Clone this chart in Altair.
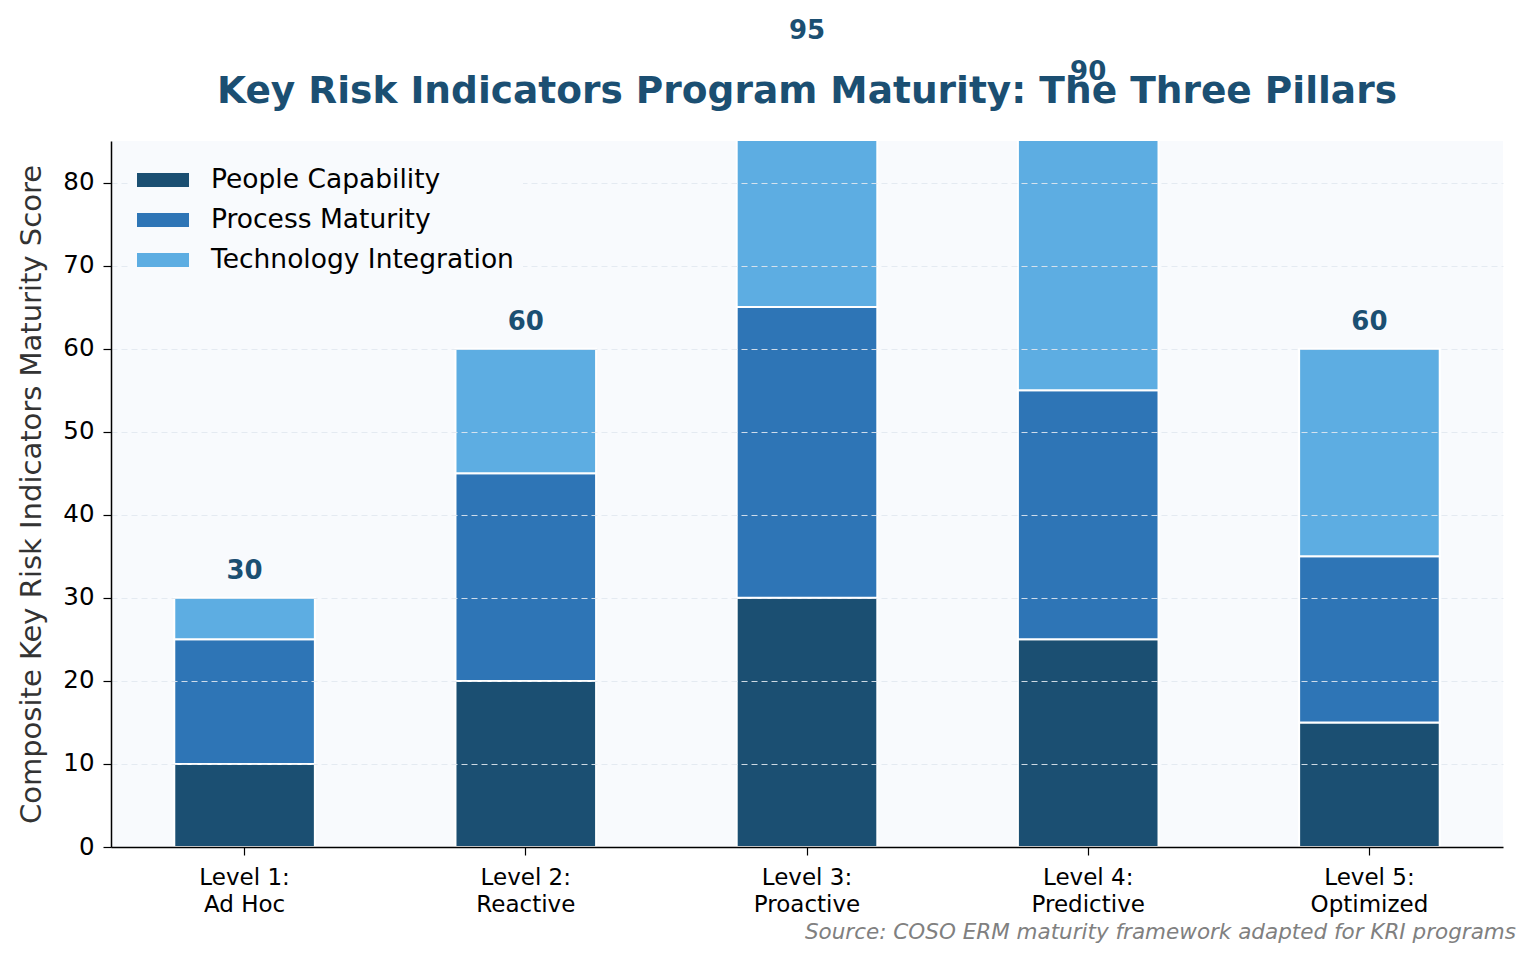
import altair as alt
import pandas as pd

levels = ["Level 1:\nAd Hoc", "Level 2:\nReactive", "Level 3:\nProactive",
          "Level 4:\nPredictive", "Level 5:\nOptimized"]
pillars = ["People Capability", "Process Maturity", "Technology Integration"]
people = [10, 20, 30, 25, 15]
process = [15, 25, 35, 30, 20]
technology = [5, 15, 30, 35, 25]
colors = ["#1b4f72", "#2e75b6", "#5dade2"]
title_text = "Key Risk Indicators Program Maturity: The Three Pillars"
source_text = "Source: COSO ERM maturity framework adapted for KRI programs"
y_title = "Composite Key Risk Indicators Maturity Score"

rows = []
for i, lv in enumerate(levels):
    for j, vals in enumerate([people, process, technology]):
        rows.append({"level": lv, "pillar": pillars[j], "idx": j, "value": vals[i]})
df = pd.DataFrame(rows)
totals = pd.DataFrame({
    "level": levels,
    "total": [a + b + c for a, b, c in zip(people, process, technology)],
})

W, H = 1392, 706
BG = "#f8fafd"

xscale = alt.Scale(domain=levels, paddingInner=0.5, paddingOuter=0.225)
yscale = alt.Scale(domain=[0, 85], nice=False, zero=True)

bars = alt.Chart(df).mark_bar(clip=True, stroke="white", strokeWidth=2).encode(
    x=alt.X("level:N", scale=xscale, sort=levels,
            axis=alt.Axis(title=None, labelAngle=0, labelExpr="split(datum.label, '\\n')",
                          labelFontSize=23, labelLineHeight=27, labelColor="#000000",
                          labelPadding=11, tickSize=8, tickColor="#000000", tickWidth=1.2,
                          domainColor="#000000", domainWidth=1.5, grid=False, zindex=2)),
    y=alt.Y("value:Q", stack="zero", scale=yscale,
            axis=alt.Axis(title=y_title, values=list(range(0, 81, 10)),
                          labelFontSize=24.5, labelColor="#000000", labelPadding=9,
                          tickSize=8, tickColor="#000000", tickWidth=1.2,
                          domainColor="#000000", domainWidth=1.5, grid=True,
                          gridDash=[6, 4], gridColor="#e1e8ef", gridOpacity=0.9,
                          gridWidth=1.2, titleFontSize=29, titleFontWeight="normal",
                          titleColor="#333333", titlePadding=16, zindex=1)),
    color=alt.Color("pillar:N", scale=alt.Scale(domain=pillars, range=colors),
                    legend=alt.Legend(title=None, orient="none", legendX=18, legendY=5,
                                      labelFontSize=26.5, labelColor="#000000", labelLimit=0,
                                      symbolType="M-1,-0.27L1,-0.27L1,0.27L-1,0.27Z",
                                      symbolSize=2704, symbolStrokeWidth=0,
                                      symbolOpacity=1, labelOffset=22, rowPadding=0,
                                      padding=8, fillColor=BG, strokeColor=BG,
                                      zindex=3)),
    order=alt.Order("idx:Q", sort="ascending"),
)

labels = alt.Chart(totals).mark_text(
    fontSize=26, fontWeight="bold", color="#1b4f72", baseline="middle", dy=-27
).encode(
    x=alt.X("level:N", scale=xscale, sort=levels),
    y=alt.Y("total:Q", scale=yscale),
    text=alt.Text("total:Q"),
)

title = alt.Chart(pd.DataFrame({"t": [title_text]})).mark_text(
    fontSize=37.5, fontWeight="bold", color="#1b4f72", align="center", baseline="alphabetic"
).encode(x=alt.value(W / 2), y=alt.value(-38), text="t:N")

source = alt.Chart(pd.DataFrame({"t": [source_text]})).mark_text(
    fontSize=21.5, fontStyle="italic", color="#808080", align="right", baseline="middle"
).encode(x=alt.value(1405), y=alt.value(792), text="t:N")

chart = alt.layer(bars, labels, title, source).properties(
    width=W, height=H,
    padding={"left": 111, "top": 141, "right": 33, "bottom": 115},
    autosize=alt.AutoSizeParams(type="none"),
    background="white",
).configure(font="DejaVu Sans").configure_view(stroke=None, fill=BG)

chart.save("out.html", embed_options={"renderer": "svg", "actions": False})
